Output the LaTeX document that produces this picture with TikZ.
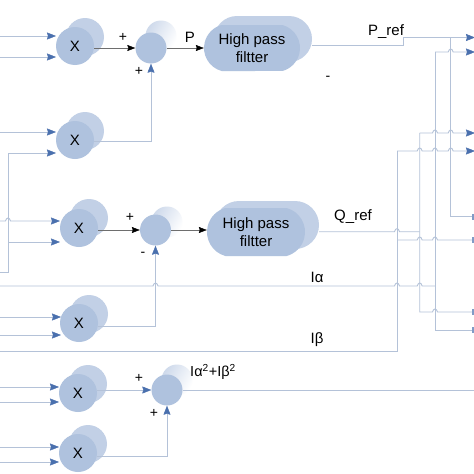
\documentclass[tikz,border=0pt]{standalone}
\usepackage{fontspec}
\setmainfont{Liberation Sans}
\usetikzlibrary{arrows.meta,shapes.misc}
\definecolor{front}{HTML}{AFC2DE}
\definecolor{back}{HTML}{C2D0E6}
\definecolor{wire}{HTML}{B4C2D8}
\definecolor{tipblue}{HTML}{4A70AE}
\definecolor{blackline}{HTML}{6E6E6E}
\newcommand{\hj}[2]{-- (#1-2.5,#2) .. controls (#1-1.5,#2-4) and (#1+1.5,#2-4) .. (#1+2.5,#2)}
\tikzset{
  x=1pt,y=-1pt,
  mulfront/.style={circle,fill=front,minimum size=38pt,inner sep=0pt,font=\fontsize{15}{17}\selectfont},
  mulback/.style={circle,fill=back,minimum size=38pt,inner sep=0pt},
  sumfront/.style={circle,fill=front,minimum size=31pt,inner sep=0pt},
  sumback/.style={circle,left color=back!80!white,right color=white,minimum size=31pt,inner sep=0pt,shading angle=60},
  filtfront/.style={rounded rectangle,rounded rectangle arc length=150,fill=front,inner sep=0pt,align=center,font=\fontsize{15}{18}\selectfont},
  filtback/.style={rounded rectangle,fill=back,inner sep=0pt},
  lbl/.style={inner sep=0pt,font=\fontsize{15}{17}\selectfont},
  sign/.style={inner sep=0pt,font=\fontsize{14}{16}\selectfont},
  wireline/.style={draw=wire,line width=0.9pt},
  blue arrow/.style={wireline,-{Stealth[length=9pt,width=7pt,inset=1pt,fill=tipblue,color=tipblue,line width=0.4pt]}},
  black arrow/.style={draw=blackline,line width=1pt,-{Stealth[length=8pt,width=6pt,inset=1pt,fill=black,color=black,line width=0.4pt]}}
}
\begin{document}
\begin{tikzpicture}
\useasboundingbox (0,0) rectangle (474,474);
\clip (0,0) rectangle (474,474);
\fill[white] (0,0) rectangle (474,474);
% back shapes
\node[mulback] (b1) at (85,37) {};
\node[mulback] (b2) at (85,131) {};
\node[mulback] (b3) at (89,218) {};
\node[mulback] (b4) at (89,314) {};
\node[mulback] (b5) at (88,384) {};
\node[mulback] (b6) at (88,444) {};
\node[sumback] (sb1) at (161,36) {};
\node[sumback] (sb2) at (167,222) {};
\node[sumback] (sb3) at (177,380) {};
\node[filtback,minimum width=98pt,minimum height=46pt] (fb1) at (263,39) {};
\node[filtback,minimum width=104pt,minimum height=48pt] (fb2) at (267,225) {};
% front shapes
\node[mulfront] (x1) at (75,46) {X};
\node[mulfront] (x2) at (75,140) {X};
\node[mulfront] (x3) at (79,228) {X};
\node[mulfront] (x4) at (79,323) {X};
\node[mulfront] (x5) at (78,393) {X};
\node[mulfront] (x6) at (78,453) {X};
\node[sumfront] (s1) at (151,48) {};
\node[sumfront] (s2) at (155.5,230) {};
\node[sumfront] (s3) at (167,390) {};
\node[filtfront,minimum width=96pt,minimum height=46pt] (f1) at (252,48) {High pass\\filtter};
\node[filtfront,minimum width=98pt,minimum height=48pt] (f2) at (256,232) {High pass\\filtter};
% free ends
\coordinate (l1) at (0,36); \coordinate (t1) at (56,36);
\coordinate (l2) at (0,57); \coordinate (t2) at (56,57);
\coordinate (l3) at (0,132); \coordinate (t3) at (56,132);
\coordinate (v0) at (8,272); \coordinate (l0) at (0,272);
\coordinate (t4) at (56,153);
\coordinate (l5) at (0,221); \coordinate (t5) at (60,221);
\coordinate (t6) at (60,242);
\coordinate (l7) at (0,317); \coordinate (t7) at (61,317);
\coordinate (l8) at (0,335); \coordinate (t8) at (61,335);
\coordinate (l9) at (0,387); \coordinate (t9) at (59,387);
\coordinate (l10) at (0,402); \coordinate (t10) at (59,402);
\coordinate (l11) at (0,447); \coordinate (t11) at (59,447);
\coordinate (l12) at (0,462); \coordinate (t12) at (59,462);
\coordinate (e3) at (474,390);
% inputs
\foreach \a/\b in {l1/t1,l2/t2,l3/t3,l7/t7,l8/t8,l9/t9,l10/t10,l11/t11,l12/t12}
  \draw[blue arrow] (\a) -- (\b);
\draw[blue arrow] (l0) -- (v0) -- (v0 |- t4) -- (t4);
\draw[blue arrow] (v0 |- t6) -- (t6);
\draw[blue arrow] (l5) \hj{8}{221} -- (t5);
% block outputs
\draw[black arrow] (94,48) -- (s1.west);
\draw[black arrow] (s1.east) -- (f1.west);
\draw[black arrow] (98,230) -- (s2.west);
\draw[black arrow] (s2.east) -- (f2.west |- s2);
\draw[blue arrow] (94,141) -- (141,141 -| s1) -- (s1.south);
\draw[blue arrow] (x5.east |- s3) -- (s3.west);
\draw[blue arrow] (97,456) -- (97,456 -| s3) -- (s3.south);
\draw[blue arrow] (98,326) -- (98,326 -| s2) -- (s2.south);
\draw[wireline] (s3.east) -- (e3);
% right-hand bus
\draw[wireline] (fb1.east |- 0,45) -- (403,45) -- (403,37.5);
\draw[blue arrow] (403,37.5) -- (475,37.5);
\draw[wireline] (450.7,37.5) -- (450.7,216.7) -- (481,216.7);
\draw[blue arrow] (435,52) \hj{450.7}{52} -- (475,52);
\draw[wireline] (435,52) -- (435,330) -- (481,330);
\draw[blue arrow] (419.7,133) \hj{435}{133} \hj{450.7}{133} -- (475,133);
\draw[blue arrow] (397,151) \hj{419.7}{151} \hj{435}{151} \hj{450.7}{151} -- (475,151);
\draw[wireline] (397,151) -- (397,351) -- (0,351);
\draw[wireline] (419.7,133) -- (419.7,312) \hj{435}{312} -- (481,312);
\draw[wireline] (fb2.east) ++(0,6.7) \hj{397}{231.7} -- (419.7,231.7);
\draw[wireline] (397,240) \hj{419.7}{240} \hj{435}{240} -- (481,240);
\draw[wireline] (0,286) \hj{155.5}{286} \hj{397}{286} \hj{419.7}{286} -- (435,286);
% stub tips at the right edge
\foreach \yy in {216.7,240,312,330}
  \fill[tipblue!70!white] (472,\yy-3) rectangle (474,\yy+3);
% labels
\node[sign] (p1) at (123,37) {+};
\node[sign] (p2) at (139,71) {+};
\node[lbl] (n1) at (190,37) {P};
\node[lbl] (n2) at (386,32) {P\_ref};
\node[sign] (m1) at (328,78) {-};
\node[sign] (p3) at (130,217) {+};
\node[sign] (m2) at (143,254) {-};
\node[lbl] (n3) at (353,217) {Q\_ref};
\node[lbl] (n4) at (317,277) {Iα};
\node[lbl] (n5) at (317,340) {Iβ};
\node[sign] (p4) at (139,378) {+};
\node[sign] (p5) at (154,413) {+};
\node[inner sep=0pt,font=\fontsize{14.5}{16}\selectfont] (n6) at (213,372) {Iα\textsuperscript{2}+Iβ\textsuperscript{2}};
\end{tikzpicture}
\end{document}
